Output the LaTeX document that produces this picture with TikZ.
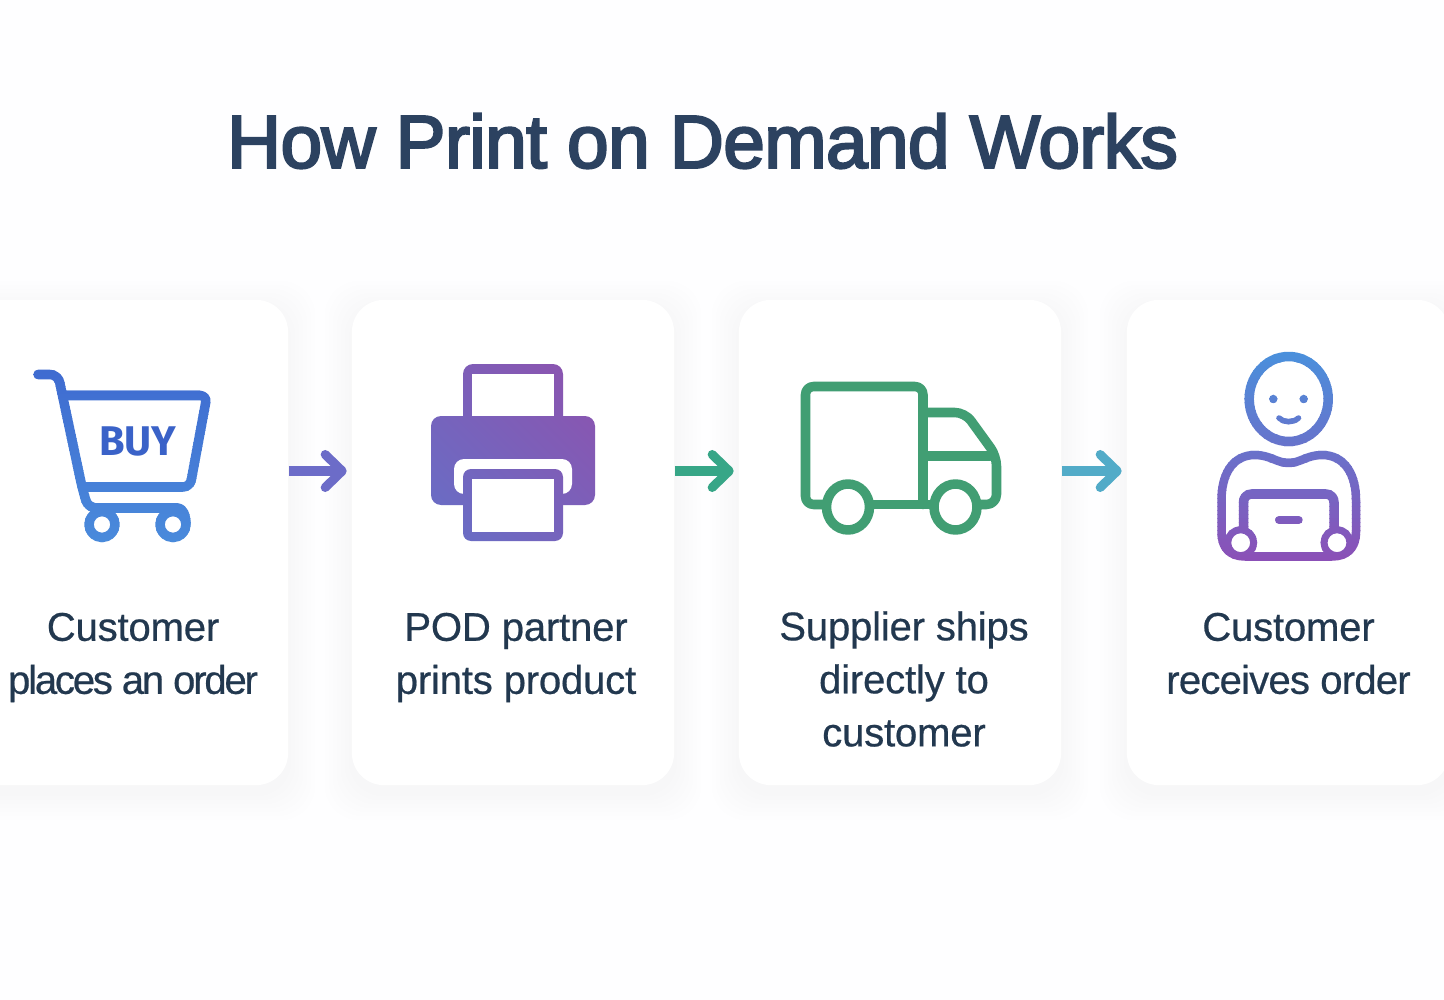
\documentclass[tikz,border=0pt]{standalone}
\usepackage{fontspec}
\setmainfont{Liberation Sans}
\newfontfamily\buyfont{Fira Sans}
\usetikzlibrary{arrows.meta,backgrounds}
\definecolor{titleink}{HTML}{2C4260}
\definecolor{labelink}{HTML}{22384F}
\definecolor{pagebg}{HTML}{FEFEFF}
\definecolor{shadowink}{HTML}{E6EAF8}
\definecolor{cartlo}{HTML}{3F6BD0}
\definecolor{carthi}{HTML}{4A8CDC}
\definecolor{buyink}{HTML}{3A62C8}
\definecolor{printa}{HTML}{6A6CC4}
\definecolor{printb}{HTML}{8A55B0}
\definecolor{truckink}{HTML}{419E73}
\definecolor{persontop}{HTML}{4A90DC}
\definecolor{personbot}{HTML}{8C4FB6}
\definecolor{arrowa}{HTML}{6C6CC8}
\definecolor{arrowb}{HTML}{37A687}
\definecolor{arrowc}{HTML}{52ABC8}
\tikzset{
  cardbox/.style={fill=white,rounded corners=0.32cm,minimum width=3.22cm,minimum height=4.85cm,inner sep=0pt},
  steplabel/.style={text=labelink,align=center,inner sep=0pt,font=\fontsize{11.4}{15.08}\selectfont\addfontfeatures{LetterSpace=-0.5,FakeBold=0.5}},
  steparrow/.style={line width=0.095cm,-{Straight Barb[length=0.17cm,width=0.33cm,round,line width=0.09cm]}},
  iconline/.style={line width=0.095cm,line join=round,line cap=round},
}
% icon drawn in thin horizontal bands, each in its own colour
\newcommand{\bandicon}[5]{
  \foreach \b in {0,...,#2} {
    \pgfmathsetmacro{\bandy}{#1+4*\b}
    \pgfmathsetmacro{\bandmix}{100*\b/#2}
    \colorlet{bandcol}{#4!\bandmix!#3}
    \begin{scope}
      \clip (0,\bandy) rectangle (1444,\bandy+4.5);
      #5
    \end{scope}
  }
}
\newcommand{\printshade}{\shade[left color=printb,right color=printa,shading angle=-45] (420,354) rectangle (606,552);}
\begin{document}
\begin{tikzpicture}[x=0.01cm,y=-0.01cm]
\clip (0,0) rectangle (1444,1000);
\node[font=\fontsize{21.3}{26}\selectfont\addfontfeatures{LetterSpace=-0.9,FakeBold=3},text=titleink,inner sep=0pt] (title) at (702.5,141) {How Print on Demand Works};

\node[cardbox] (card1) at (127,542.5) {};
\node[cardbox] (card2) at (513,542.5) {};
\node[cardbox] (card3) at (900,542.5) {};
\node[cardbox] (card4) at (1288,542.5) {};
\begin{scope}[on background layer]
  \fill[pagebg] (0,0) rectangle (1444,1000);
  \foreach \c in {card1,card2,card3,card4} {
    \foreach \g in {0.02,0.06,...,0.26} {
      \fill[shadowink,opacity=0.035,rounded corners=0.34cm]
        ([xshift=-\g cm,yshift=-\g cm-0.08cm]\c.south west) rectangle ([xshift=\g cm,yshift=\g cm-0.08cm]\c.north east);
    }
  }
\end{scope}

% cart
\bandicon{366}{46}{cartlo}{carthi}{
  \draw[iconline,draw=bandcol,rounded corners=0.08cm] (38,374.5) -- (58,374.5) -- (82,487) -- (88,508) -- (178,508);
  \draw[iconline,draw=bandcol] (178,508) .. controls (182,508) and (186,514) .. (186,524);
  \draw[iconline,draw=bandcol,rounded corners=0.07cm] (65,395.5) -- (207,395.5) -- (190,487) -- (82,487);
  \draw[iconline,draw=bandcol,fill=white] (102,524.5) circle (13);
  \draw[iconline,draw=bandcol,fill=white] (173,524.5) circle (13);
}
\node[font=\buyfont\fontsize{11.8}{14}\selectfont\bfseries,text=buyink,inner sep=0pt] (buy) at (138,441) {BUY};

% printer
\begin{scope}
  \clip[rounded corners=0.1cm] (463,364) rectangle (563,430);
  \printshade
\end{scope}
\begin{scope}
  \clip[rounded corners=0.1cm] (431,416) rectangle (595,505);
  \printshade
\end{scope}
\fill[white] (472,374) rectangle (554,416);
\fill[white,rounded corners=0.1cm] (454,459) rectangle (572,494);
\begin{scope}
  \clip[rounded corners=0.08cm] (463,469) rectangle (563,541);
  \printshade
\end{scope}
\fill[white] (472,478.5) rectangle (554,532);

% truck
\draw[iconline,draw=truckink,rounded corners=0.08cm] (826,504.5) -- (805.5,504.5) -- (805.5,386.5) -- (923,386.5) -- (923,504.5);
\draw[iconline,draw=truckink] (869,504.5) -- (935,504.5);
\draw[iconline,draw=truckink,rounded corners=0.1cm] (923,412.5) -- (965,412.5) -- (996.5,456) -- (996.5,504.5) -- (977,504.5);
\draw[iconline,draw=truckink] (923,456) -- (990,456);
\draw[iconline,draw=truckink,fill=white] (848,507) circle[x radius=21.5,y radius=23];
\draw[iconline,draw=truckink,fill=white] (955.5,507) circle[x radius=21.5,y radius=23];

% person
\bandicon{350}{53}{persontop}{personbot}{
  \draw[iconline,draw=bandcol] (1288.7,399) circle[x radius=39.5,y radius=42.5];
  \fill[bandcol] (1273.3,399) circle (4.2) (1303.7,399) circle (4.2);
  \draw[line width=0.055cm,line cap=round,draw=bandcol] (1279,418) .. controls (1284,423) and (1293,423) .. (1298.5,418);
  \draw[iconline,draw=bandcol,line width=0.085cm] (1288.7,463) .. controls (1277,463) and (1270,455) .. (1255,455)
    .. controls (1232,455) and (1221.5,475) .. (1221.5,500) -- (1221.5,532) .. controls (1221.5,548) and (1230,556.5) .. (1245,556.5)
    -- (1332,556.5) .. controls (1347,556.5) and (1356,548) .. (1356,532) -- (1356,500)
    .. controls (1356,475) and (1345,455) .. (1322,455) .. controls (1307,455) and (1300,463) .. (1288.7,463);
  \draw[iconline,draw=bandcol,rounded corners=0.08cm] (1243.5,530) -- (1243.5,494) -- (1334,494) -- (1334,530);
  \draw[line width=0.08cm,line cap=round,draw=bandcol] (1279,520) -- (1298.7,520);
  \draw[iconline,draw=bandcol,line width=0.07cm,fill=white] (1240.7,542.7) circle (13);
  \draw[iconline,draw=bandcol,line width=0.07cm,fill=white] (1337,542.7) circle (13);
}

\coordinate (arrowrow) at (0,471);
\draw[steparrow,draw=arrowa] (card1.east |- arrowrow) -- ([xshift=-0.045cm]card2.west |- arrowrow);
\draw[steparrow,draw=arrowb] (card2.east |- arrowrow) -- ([xshift=-0.045cm]card3.west |- arrowrow);
\draw[steparrow,draw=arrowc] (card3.east |- arrowrow) -- ([xshift=-0.045cm]card4.west |- arrowrow);

\node[steplabel] (label1) at (133,657.5) {Customer\\{\addfontfeatures{LetterSpace=-5.5,FakeBold=0.5}places an order}};
\node[steplabel] (label2) at (516,657.5) {POD partner\\prints product};
\node[steplabel] (label3) at (904,679) {Supplier ships\\directly to\\customer};
\node[steplabel] (label4) at (1288.5,653.5) {Customer\\{\addfontfeatures{LetterSpace=-2,FakeBold=0.5}receives order}};
\end{tikzpicture}
\end{document}
